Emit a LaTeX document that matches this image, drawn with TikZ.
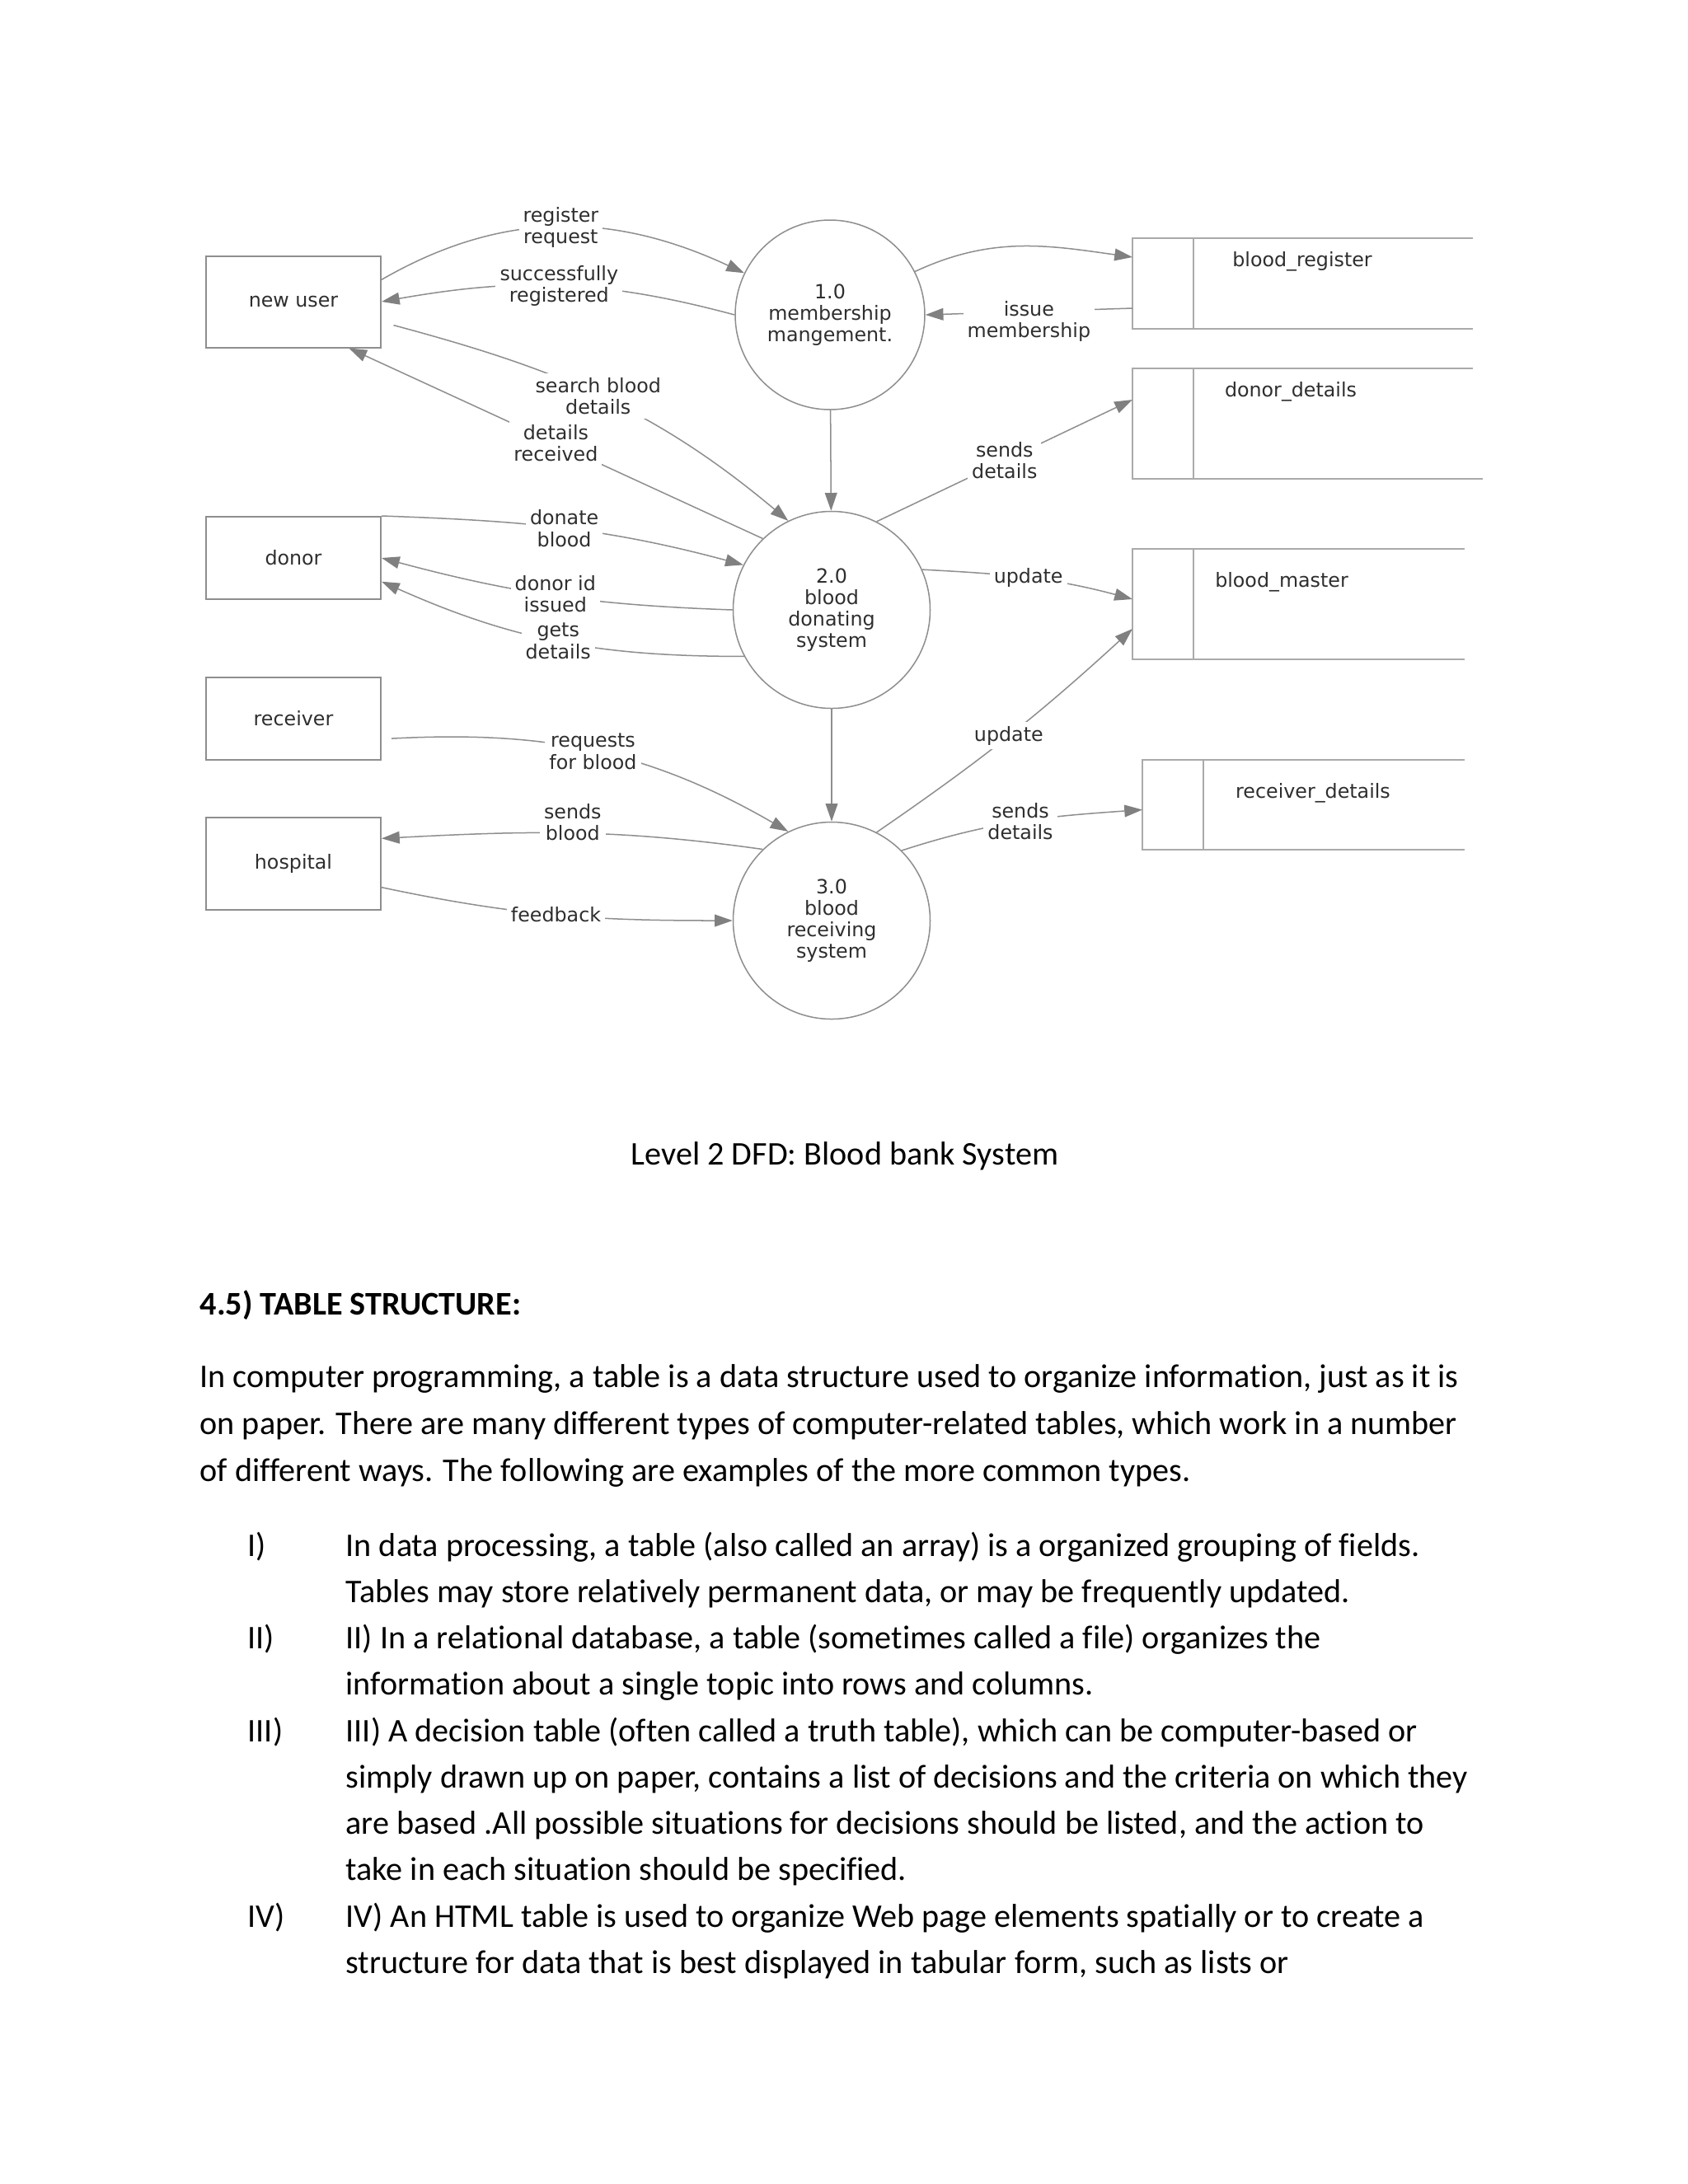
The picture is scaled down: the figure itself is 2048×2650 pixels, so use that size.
\documentclass[tikz,border=0pt]{standalone}
\usepackage{fontspec}
\setmainfont{Carlito}[Ligatures=CommonOff]
\newfontfamily\dfdfont{DejaVu Sans}
\usetikzlibrary{arrows.meta,calc,positioning}
\newlength{\pxu}
\setlength{\pxu}{0.29883pt}
\definecolor{dfdline}{HTML}{8E8E8E}
\definecolor{dfdhead}{HTML}{808080}
\definecolor{dfdtext}{HTML}{2E2E2E}
\newcommand{\dfdsize}{\dfdfont\fontsize{7.1pt}{7.8pt}\selectfont}

\tikzset{
  entity/.style={draw=dfdline, line width=0.6pt, minimum width=212\pxu,
    inner sep=0pt, text=dfdtext, font=\dfdsize},
  process/.style={circle, draw=dfdline, line width=0.45pt, align=center,
    inner sep=0pt, text=dfdtext, font=\dfdsize},
  store/.style={inner sep=0pt, outer sep=0pt},
  storeline/.style={draw=dfdline!75, line width=0.8pt},
  storelabel/.style={inner sep=0pt, text=dfdtext, font=\dfdsize},
  flow/.style={draw=dfdline, line width=0.45pt,
    -{Triangle[length=6.5pt,width=4.4pt,color=dfdhead]}},
  flowlabel/.style={fill=white, inner sep=1.5pt, align=center,
    text=dfdtext, font=\dfdsize},
  bodyline/.style={anchor=base west, inner sep=0pt, font=\fontsize{12pt}{14pt}\selectfont}
}

\begin{document}
\begin{tikzpicture}[x=\pxu, y=\pxu]
  \fill[white] (0,0) rectangle (2048,-2650);
  \useasboundingbox (0,0) rectangle (2048,-2650);

  % external entities
  \node[entity, minimum height=111\pxu] (newuser) at (356,-366) {new user};
  \node[entity, minimum height=100\pxu] (donor) at (356,-677) {donor};
  \node[entity, minimum height=100\pxu] (receiver) at (356,-872) {receiver};
  \node[entity, minimum height=112\pxu] (hospital) at (356,-1048) {hospital};

  % processes
  \node[process, minimum size=230\pxu] (memb) at (1007,-382) {1.0\\membership\\mangement.};
  \node[process, minimum size=239\pxu] (dona) at (1009,-740) {2.0\\blood\\donating\\system};
  \node[process, minimum size=239\pxu] (recv) at (1009,-1117) {3.0\\blood\\receiving\\system};

  % data stores
  \node[store, minimum width=413\pxu, minimum height=110\pxu] (bregister) at (1580.5,-344) {};
  \node[store, minimum width=413\pxu, minimum height=134\pxu] (ddetails) at (1580.5,-514) {};
  \node[store, minimum width=403\pxu, minimum height=134\pxu] (bmaster) at (1575.5,-733) {};
  \node[store, minimum width=391\pxu, minimum height=109\pxu] (rdetails) at (1581.5,-976.5) {};
  \foreach \s in {bregister,ddetails,bmaster,rdetails}{
    \draw[storeline] (\s.north east) -- (\s.north west) -- (\s.south west) -- (\s.south east);
    \draw[storeline] ([xshift=74\pxu]\s.north west) -- ([xshift=74\pxu]\s.south west);
  }
  \draw[storeline] (ddetails.south east) -- ++(12,0);
  \node[storelabel] (bregisterlbl) at (1580,-317) {blood\_register};
  \node[storelabel] (ddetailslbl) at (1566,-475) {donor\_details};
  \node[storelabel] (bmasterlbl) at (1555,-706) {blood\_master};
  \node[storelabel] (rdetailslbl) at (1593,-962) {receiver\_details};

  % new user
  \draw[flow] (newuser.14) to[out=30,in=155] node[flowlabel] {register\\request} (memb.154);
  \draw[flow] (memb.west) to[out=165,in=10] node[flowlabel] {successfully\\registered} (newuser.east);
  \draw[flow, shorten <=4.5pt] (newuser.-13) to[out=-15,in=140] node[flowlabel] {search blood\\details} (dona.116);
  \draw[flow] (dona.134) -- node[flowlabel] {details\\received} (newuser.-40);

  % donor
  \draw[flow] (donor.north east) to[out=-2,in=165] node[flowlabel] {donate\\blood} (dona.153);
  \draw[flow] (dona.west) to[out=178,in=-15] node[flowlabel, yshift=0.6pt] {donor id\\issued} (donor.east);
  \draw[flow] (dona.208) to[out=180,in=-24] node[flowlabel] {gets\\details} (donor.-15);

  % receiver and hospital
  \draw[flow, shorten <=3.6pt] (receiver.-13) to[out=3,in=150] node[flowlabel] {requests\\for blood} (recv.116);
  \draw[flow] (recv.134) to[out=172,in=3] node[flowlabel, yshift=3.9pt] {sends\\blood} (hospital.16);
  \draw[flow] (hospital.-15) to[out=-12,in=180] node[flowlabel] {feedback} (recv.west);

  % between processes
  \draw[flow] (memb) -- (dona);
  \draw[flow] (dona) -- (recv);

  % to and from the stores
  \draw[flow] (memb.27) to[out=25,in=172] ($(bregister.west)+(0,32)$);
  \draw[flow] ($(bregister.west)+(0,-30)$) -- node[flowlabel, yshift=-3.5pt] {issue\\membership} (memb.east);
  \draw[flow] (dona.63) -- node[flowlabel] {sends\\details} ($(ddetails.west)+(0,29)$);
  \draw[flow] (dona.24) to[out=-3,in=165] node[flowlabel] {update} ($(bmaster.west)+(0,6)$);
  \draw[flow] (recv.63) to[bend right=4] node[flowlabel] {update} ($(bmaster.west)+(0,-30)$);
  \draw[flow] (recv.45) to[out=18,in=184] node[flowlabel] {sends\\details} ($(rdetails.west)+(0,-6)$);

  % caption and text
  \node[anchor=base, inner sep=0pt, font=\fontsize{12pt}{14pt}\selectfont] (caption) at (1025,-1413) {Level 2 DFD: Blood bank System};
  \node[bodyline, font=\fontsize{12pt}{14pt}\selectfont\bfseries] (heading) at (242,-1595) {4.5) TABLE STRUCTURE:};
  \node[bodyline] (para1) at (242,-1683) {In computer programming, a table is a data structure used to organize information, just as it is};
  \node[bodyline] (para2) at (242,-1740) {on paper. There are many different types of computer-related tables, which work in a number};
  \node[bodyline] (para3) at (242,-1797) {of different ways. The following are examples of the more common types.};

  \node[bodyline] (num1) at (300,-1888) {I)};
  \node[bodyline] (item1a) at (419,-1888) {In data processing, a table (also called an array) is a organized grouping of fields.};
  \node[bodyline] (item1b) at (419,-1944) {Tables may store relatively permanent data, or may be frequently updated.};
  \node[bodyline] (num2) at (300,-2000) {II)};
  \node[bodyline] (item2a) at (419,-2000) {II) In a relational database, a table (sometimes called a file) organizes the};
  \node[bodyline] (item2b) at (419,-2056) {information about a single topic into rows and columns.};
  \node[bodyline] (num3) at (300,-2113) {III)};
  \node[bodyline] (item3a) at (419,-2113) {III) A decision table (often called a truth table), which can be computer-based or};
  \node[bodyline] (item3b) at (419,-2169) {simply drawn up on paper, contains a list of decisions and the criteria on which they};
  \node[bodyline] (item3c) at (419,-2225) {are based .All possible situations for decisions should be listed, and the action to};
  \node[bodyline] (item3d) at (419,-2281) {take in each situation should be specified.};
  \node[bodyline] (num4) at (300,-2338) {IV)};
  \node[bodyline] (item4a) at (419,-2338) {IV) An HTML table is used to organize Web page elements spatially or to create a};
  \node[bodyline] (item4b) at (419,-2394) {structure for data that is best displayed in tabular form, such as lists or};
\end{tikzpicture}
\end{document}
